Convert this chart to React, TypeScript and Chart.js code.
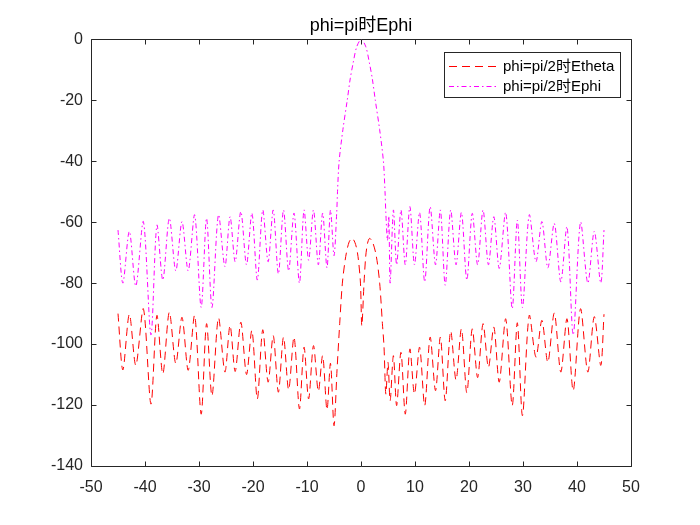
import React, { useEffect, useRef } from 'react';
import { Chart, registerables } from 'chart.js';

Chart.register(...registerables);

const titleText = 'phi=pi时Ephi';
const seriesLabels = ['phi=pi/2时Etheta', 'phi=pi/2时Ephi'];
const seriesColors = ['#ff0000', '#ff00ff'];

const xRange = [-50, 50];
const yRange = [-140, 0];
const xStep = 10;
const yStep = 20;

// Etheta (red dashed), angle in degrees
const ethetaAngles = [
  -45, -44.1, -42.9, -41.7, -40.3, -38.9, -37.8, -36.7, -35.5, -34.3,
  -33.15, -32.0, -30.8, -29.6, -28.6, -27.6, -26.4, -25.2, -24.25, -23.3,
  -22.25, -21.2, -20.2, -19.2, -18.2, -17.2, -16.25, -15.3, -14.35, -13.4,
  -12.4, -11.4, -10.55, -9.7, -8.8, -7.9, -7.1, -6.3, -5.65, -5.0,
  -4.44, -3.94, -3.45, -2.83, -2.2, -1.6, -1.0, -0.55, -0.1, 0.15,
  0.56, 0.87, 1.2, 1.6, 2.2, 2.85, 3.46, 3.96, 4.26, 4.6,
  5.0, 5.4, 6.0, 6.6, 7.4, 8.2, 9.05, 9.9, 10.85, 11.8,
  12.8, 13.8, 14.7, 15.6, 16.6, 17.6, 18.6, 19.6, 20.6, 21.6,
  22.6, 23.6, 24.6, 25.6, 26.8, 28.0, 28.95, 29.9, 31.15, 32.4,
  33.5, 34.6, 35.8, 37.0, 38.15, 39.3, 40.65, 42.0, 43.2, 44.4,
  45,
];
const ethetaValues = [
  -90, -108.5, -90.2, -107, -88.4, -119.7, -90.6, -109.8, -89.5, -106.4,
  -91.2, -108.6, -90.6, -123, -93.3, -117, -91.4, -109.2, -93.9, -109,
  -92.8, -110, -95.5, -118, -95.3, -112.5, -97.2, -115.8, -97.7, -115,
  -97.7, -121.3, -101, -118, -100.5, -115.5, -103.8, -121.6, -106.3, -126.8,
  -108.5, -93.2, -80, -71.3, -66.5, -65.3, -67.3, -71.3, -80, -94,
  -80, -71.3, -67, -65.3, -66.8, -71.3, -80, -93.2, -100.8, -116.4,
  -106, -118.6, -103.8, -120.2, -102.7, -123, -101.6, -116.4, -101, -120.2,
  -97.7, -115.3, -97.7, -118.6, -95.7, -111.8, -95, -116, -95, -111,
  -93.3, -107.6, -94.4, -112.5, -91.7, -120.2, -93, -123.5, -90.6, -104.3,
  -92.2, -106, -89.8, -109.2, -91.7, -115.3, -88.4, -109.2, -91, -107,
  -90.2,
];

// Ephi (magenta dash-dot), angle in degrees
const ephiAngles = [
  -45, -44.1, -42.9, -41.7, -40.3, -38.9, -37.8, -36.7, -35.5, -34.3,
  -33.15, -32.0, -30.8, -29.6, -28.6, -27.6, -26.4, -25.2, -24.25, -23.3,
  -22.25, -21.2, -20.2, -19.2, -18.2, -17.2, -16.25, -15.3, -14.35, -13.4,
  -12.4, -11.4, -10.55, -9.7, -8.8, -7.9, -7.1, -6.3, -5.65, -5.0,
  -4.5, -4.35, -4.05, -3.35, -2.55, -2.0, -1.45, -0.8, 0.05, 0.9,
  1.55, 2.1, 2.65, 3.45, 4.15, 4.45, 4.6, 4.9, 5.15,
  5.4, 6.0, 6.6, 7.4, 8.2, 9.05, 9.9, 10.85, 11.8, 12.8,
  13.8, 14.7, 15.6, 16.6, 17.6, 18.6, 19.6, 20.6, 21.6, 22.6,
  23.6, 24.6, 25.6, 26.8, 28.0, 28.95, 29.9, 31.15, 32.4, 33.5,
  34.6, 35.8, 37.0, 38.15, 39.3, 40.65, 42.0, 43.2, 44.4, 45,
];
const ephiValues = [
  -62.6, -80, -63, -81, -59.8, -97, -61, -79, -58.7, -76,
  -59.8, -76, -57.6, -88, -58.7, -88, -57.6, -74.6, -58.2, -73,
  -56.5, -74, -57, -79, -56, -73, -56, -77, -56, -76,
  -57, -80, -56, -72.5, -56, -74, -57, -75, -56, -71,
  -57, -50, -40, -29.6, -20, -13, -7.7, -2.5, 0, -2.5,
  -7.7, -13, -20, -29.6, -40, -50, -57, -66, -58,
  -80, -56, -74, -56, -74, -54.9, -74, -56.8, -79.6, -54.9,
  -74, -56, -80.7, -56, -74, -56.8, -79, -57.1, -74, -56,
  -74, -58.2, -75.2, -56.8, -88.4, -59.3, -88, -57.6, -73, -59.8,
  -75, -60.4, -79.6, -61.5, -97, -60, -80, -63, -80, -62.6,
];

const FONT = '"Liberation Sans", Arial, "Noto Sans CJK SC", sans-serif';
const AXIS_COLOR = '#262626';
const dashes = [[8, 5], [5, 3, 1.5, 3]];

const framePlugin = {
  id: 'matlabFrame',
  afterDatasetsDraw(chart: any) {
    const { ctx, chartArea, scales } = chart;
    const { left, right, top, bottom } = chartArea;
    const xs = scales.x;
    const ys = scales.y;
    ctx.save();
    ctx.strokeStyle = AXIS_COLOR;
    ctx.lineWidth = 1;
    ctx.setLineDash([]);
    const L = Math.round(left) + 0.5;
    const R = Math.round(right) + 0.5;
    const T = Math.round(top) + 0.5;
    const B = Math.round(bottom) + 0.5;
    ctx.beginPath();
    ctx.rect(L, T, R - L, B - T);
    const tl = 5;
    xs.ticks.forEach((t: any) => {
      const px = Math.round(xs.getPixelForValue(t.value)) + 0.5;
      ctx.moveTo(px, B);
      ctx.lineTo(px, B - tl);
      ctx.moveTo(px, T);
      ctx.lineTo(px, T + tl);
    });
    ys.ticks.forEach((t: any) => {
      const py = Math.round(ys.getPixelForValue(t.value)) + 0.5;
      ctx.moveTo(L, py);
      ctx.lineTo(L + tl, py);
      ctx.moveTo(R, py);
      ctx.lineTo(R - tl, py);
    });
    ctx.stroke();

    // legend
    const bx = 444.5, by = 52.5, bw = 176, bh = 45;
    ctx.fillStyle = '#ffffff';
    ctx.fillRect(bx, by, bw, bh);
    ctx.strokeRect(bx, by, bw, bh);
    const rows = [66.5, 86.5];
    ctx.font = `15px ${FONT}`;
    ctx.textBaseline = 'middle';
    ctx.textAlign = 'left';
    seriesLabels.forEach((lab, i) => {
      ctx.beginPath();
      ctx.strokeStyle = seriesColors[i];
      ctx.setLineDash(dashes[i]);
      ctx.moveTo(449, rows[i]);
      ctx.lineTo(496, rows[i]);
      ctx.stroke();
      ctx.fillStyle = '#000000';
      ctx.fillText(lab, 503, rows[i] + 0.5);
    });
    ctx.restore();
  },
};

function zip(xs: number[], ys: number[]) {
  return xs.map((x, i) => ({ x, y: ys[i] }));
}

export default function App() {
  const ref = useRef<HTMLCanvasElement | null>(null);
  useEffect(() => {
    if (!ref.current) return;
    const chart = new Chart(ref.current, {
      type: 'line',
      data: {
        datasets: [
          {
            label: seriesLabels[0],
            data: zip(ethetaAngles, ethetaValues),
            borderColor: seriesColors[0],
            borderWidth: 1,
            borderDash: dashes[0],
            pointRadius: 0,
            tension: 0.3,
            fill: false,
          },
          {
            label: seriesLabels[1],
            data: zip(ephiAngles, ephiValues),
            borderColor: seriesColors[1],
            borderWidth: 1,
            borderDash: dashes[1],
            pointRadius: 0,
            tension: 0.3,
            fill: false,
          },
        ],
      },
      options: {
        animation: false,
        responsive: false,
        devicePixelRatio: 1,
        layout: { padding: { left: 0, right: 69, top: 0, bottom: 0 } },
        plugins: {
          legend: { display: false },
          tooltip: { enabled: false },
          title: {
            display: true,
            text: titleText,
            fullSize: false,
            color: '#000000',
            font: { family: FONT, size: 18, weight: 'normal' },
            padding: { top: 15.7, bottom: 2 },
          },
        },
        scales: {
          x: {
            type: 'linear',
            min: xRange[0],
            max: xRange[1],
            afterFit: (s: any) => { s.height = 59; },
            grid: { display: false, drawTicks: false },
            border: { display: false },
            ticks: { stepSize: xStep, color: AXIS_COLOR, padding: 12, font: { family: FONT, size: 16 } },
          },
          y: {
            type: 'linear',
            min: yRange[0],
            max: yRange[1],
            afterFit: (s: any) => { s.width = 91; },
            grid: { display: false, drawTicks: false },
            border: { display: false },
            ticks: { stepSize: yStep, color: AXIS_COLOR, padding: 8, font: { family: FONT, size: 16 } },
          },
        },
      },
      plugins: [framePlugin],
    } as any);
    return () => chart.destroy();
  }, []);
  return (
    <div style={{ position: 'fixed', left: 0, top: 0, width: 700, height: 525, background: '#ffffff' }}>
      <canvas ref={ref} width={700} height={525} style={{ display: 'block' }} />
    </div>
  );
}
